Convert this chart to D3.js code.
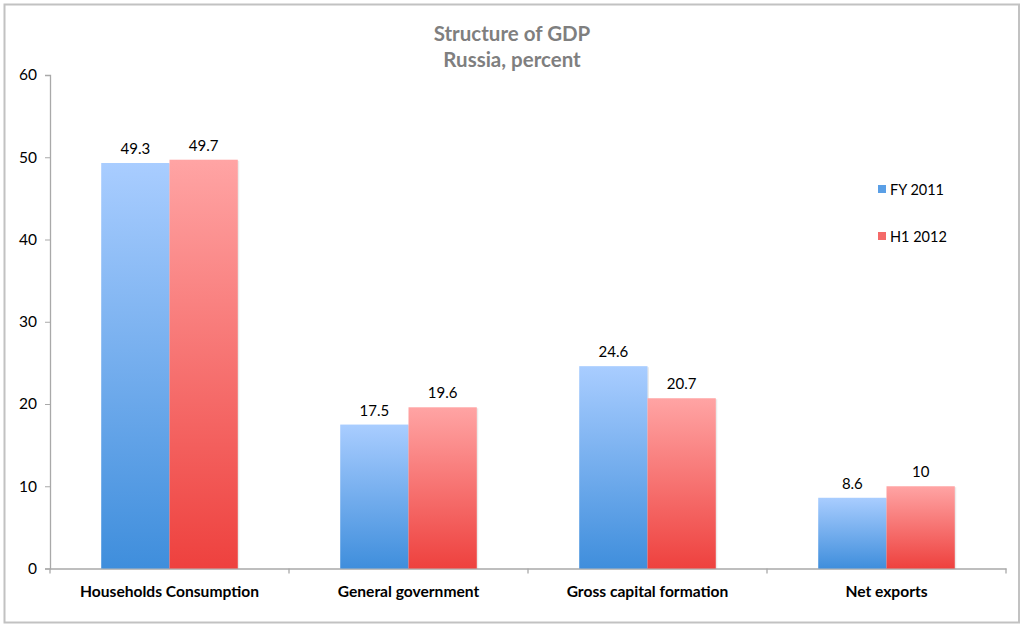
<!DOCTYPE html>
<html>
<head>
<meta charset="utf-8">
<script src="https://cdn.jsdelivr.net/npm/d3@7"></script>
<style>
html,body{margin:0;padding:0;background:#fff;}
svg{display:block;}
text{font-family:"Lato","Open Sans",sans-serif;}
</style>
</head>
<body>
<svg id="chart" width="1024" height="628"></svg>
<script>
const categories = ["Households Consumption","General government","Gross capital formation","Net exports"];
const seriesNames = ["FY 2011","H1 2012"];
const fy2011 = [49.3, 17.5, 24.6, 8.6];
const h12012 = [49.7, 19.6, 20.7, 10];
const yTicks = [0,10,20,30,40,50,60];
const titleLines = ["Structure of GDP","Russia, percent"];

(function(){
const svg = d3.select("#chart");
const defs = svg.append("defs");
const grads = [
  {id:"gBlue", top:"#a9cdff", bottom:"#3f8edc"},
  {id:"gRed", top:"#ffa4a4", bottom:"#ee413e"}
];
grads.forEach(g=>{
  const lg = defs.append("linearGradient").attr("id",g.id).attr("x1",0).attr("y1",0).attr("x2",0).attr("y2",1);
  lg.append("stop").attr("offset","0%").attr("stop-color",g.top);
  lg.append("stop").attr("offset","100%").attr("stop-color",g.bottom);
});
const fills = ["url(#gBlue)","url(#gRed)"];
const legendFills = ["#5a9fe6","#f46a69"];

// outer border
svg.append("rect").attr("x",4.5).attr("y",4.5).attr("width",1014.5).attr("height",618)
  .attr("fill","none").attr("stroke","#c2c2c2").attr("stroke-width",2);

const pLeft=50, pRight=1006, pTop=75, pBottom=568.5;
const x0 = d3.scaleBand().domain(categories).range([pLeft,pRight]).paddingInner(0).paddingOuter(0);
const x1 = d3.scaleBand().domain(seriesNames).range([0,x0.bandwidth()]).paddingInner(0).paddingOuter(0.75);
const y = d3.scaleLinear().domain([0,60]).range([pBottom,pTop]);

// title
svg.append("g").selectAll("text").data(titleLines).join("text")
  .attr("x",512).attr("y",(d,i)=>41+i*26).attr("text-anchor","middle")
  .attr("font-size",20.5).attr("font-weight","bold").attr("fill","#7f7f7f").text(d=>d);

// y axis
const yAxis = d3.axisLeft(y).tickValues(yTicks).tickSize(5).tickPadding(8).tickFormat(d3.format("d"));
const yg = svg.append("g").attr("transform",`translate(${pLeft},0)`).call(yAxis);
yg.select(".domain").attr("stroke","#a9a9a9").attr("stroke-width",1.3);
yg.selectAll(".tick line").attr("stroke","#a9a9a9");
yg.selectAll(".tick text").attr("font-size",15.5).attr("fill","#000").attr("font-family","Lato, 'Open Sans', sans-serif");

// x axis
const xAxis = d3.axisBottom(x0).tickSize(0).tickPadding(17);
const xg = svg.append("g").attr("transform",`translate(0,${pBottom})`).call(xAxis);
xg.select(".domain").attr("stroke","#a9a9a9").attr("stroke-width",1.3);
xg.selectAll(".tick text").attr("font-size",15.6).attr("font-weight","bold").attr("fill","#000").attr("font-family","Lato, 'Open Sans', sans-serif");
// category separators
const seps = categories.map(c=>x0(c)).concat([pRight]);
svg.append("g").selectAll("line").data(seps).join("line")
  .attr("x1",d=>d).attr("x2",d=>d).attr("y1",pBottom).attr("y2",pBottom+5)
  .attr("stroke","#a9a9a9").attr("stroke-width",1.3);

// bars
const data = categories.map((c,i)=>({cat:c, vals:[fy2011[i], h12012[i]]}));
const groups = svg.append("g").selectAll("g").data(data).join("g")
  .attr("transform",d=>`translate(${x0(d.cat)},0)`);
const items = d=>d.vals.map((v,i)=>({v,s:seriesNames[i],i}));
groups.selectAll("rect.shadow").data(items)
  .join("rect").attr("class","shadow")
  .attr("x",d=>x1(d.s)+1.5).attr("y",d=>y(d.v)+1).attr("width",x1.bandwidth()).attr("height",d=>pBottom-y(d.v)-1)
  .attr("fill","#000").attr("opacity",0.08);
groups.selectAll("rect.bar").data(items)
  .join("rect").attr("class","bar")
  .attr("x",d=>x1(d.s)).attr("y",d=>y(d.v)).attr("width",x1.bandwidth()).attr("height",d=>pBottom-y(d.v))
  .attr("fill",d=>fills[d.i]);
groups.selectAll("text.val").data(items)
  .join("text").attr("class","val")
  .attr("x",d=>x1(d.s)+x1.bandwidth()/2).attr("y",d=>y(d.v)-9)
  .attr("text-anchor","middle").attr("font-size",15).attr("fill","#000").text(d=>d.v);

// legend
const lg = svg.append("g").selectAll("g").data(seriesNames).join("g")
  .attr("transform",(d,i)=>`translate(878,${185+i*47})`);
lg.append("rect").attr("width",8).attr("height",8).attr("fill",(d,i)=>legendFills[i]);
lg.append("text").attr("x",12).attr("y",9.5).attr("font-size",14.5).attr("fill","#000").text(d=>d);
})();
</script>
</body>
</html>
